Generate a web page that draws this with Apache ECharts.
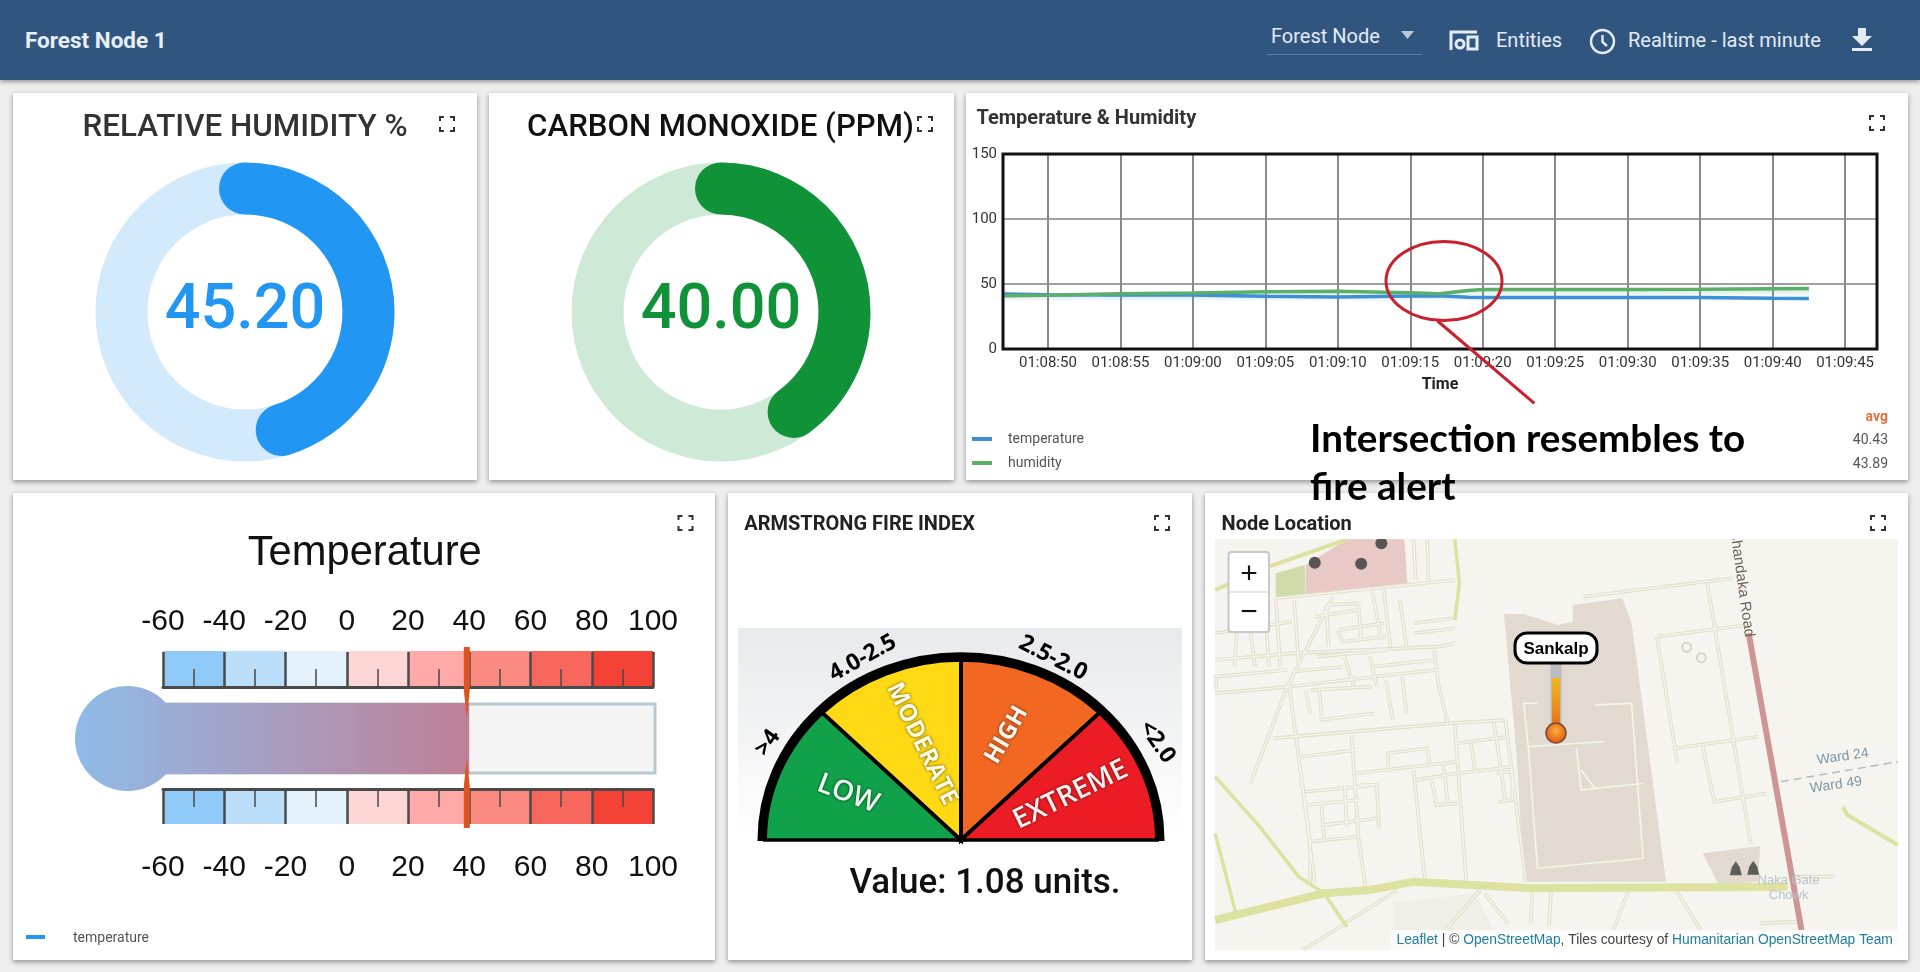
<!DOCTYPE html>
<html>
<head>
<meta charset="utf-8">
<title>Forest Node 1</title>
<script src="https://cdn.jsdelivr.net/npm/echarts@6/dist/echarts.min.js"></script>
<style>
  html, body { margin: 0; padding: 0; width: 1920px; height: 972px; overflow: hidden; background: #eeeeee; font-family: Roboto, sans-serif; }
  .bar { position: absolute; left: 0; top: 0; width: 1920px; height: 80px; background: #305680; box-shadow: 0 2px 4px rgba(0,0,0,.35); }
  .bar span { position: absolute; white-space: nowrap; transform: translateY(-50%); font-size: 20px; color: #e3ebf5; }
  .bar svg { position: absolute; }
  .card { position: absolute; background: #fff; box-shadow: 0 2px 5px rgba(0,0,0,.4); }
  #main { position: absolute; left: 0; top: 0; width: 1920px; height: 972px; }
</style>
</head>
<body>
<div class="bar">
  <span style="left:25px;top:40px;font-size:22.5px;font-weight:700;color:#e8eef6">Forest Node 1</span>
  <span style="left:1271px;top:36px">Forest Node</span>
  <svg style="left:1401px;top:31px" width="13" height="8"><path d="M0 0H13L6.5 8Z" fill="#b9c8da"/></svg>
  <div style="position:absolute;left:1267px;top:54px;width:155px;height:1px;background:#5c7ea6"></div>
  <svg style="left:1449px;top:29px" width="30" height="22" fill="none" stroke="#e3ebf5" stroke-width="3"><path d="M2 21V3H28"/><rect x="19" y="8" width="9" height="12"/><circle cx="11" cy="15" r="4"/></svg>
  <span style="left:1496px;top:40px">Entities</span>
  <svg style="left:1589px;top:28px" width="27" height="27" fill="none" stroke="#e3ebf5" stroke-width="2.4"><circle cx="13.5" cy="13.5" r="11.5"/><path d="M13.5 7V14L18 18"/></svg>
  <span style="left:1628px;top:40px">Realtime - last minute</span>
  <svg style="left:1852px;top:28px" width="20" height="23" fill="#e3ebf5"><path d="M6 0H14V8H20L10 18L0 8H6Z"/><rect y="20" width="20" height="3"/></svg>
</div>
<div class="card" style="left:13px;top:93px;width:464px;height:387px"></div>
<div class="card" style="left:489px;top:93px;width:465px;height:387px"></div>
<div class="card" style="left:966px;top:93px;width:942px;height:387px"></div>
<div class="card" style="left:13px;top:493px;width:702px;height:467px"></div>
<div class="card" style="left:728px;top:493px;width:464px;height:467px"></div>
<div class="card" style="left:1205px;top:493px;width:703px;height:467px"></div>
<div id="main"></div>
<script>
// gauges
const humidityValue = 45.2
const carbonValue = 40.0

// temperature & humidity history
const timeLabels = ['01:08:47', '01:08:50', '01:08:55', '01:09:00', '01:09:05', '01:09:10', '01:09:15', '01:09:17', '01:09:19', '01:09:20', '01:09:25', '01:09:30', '01:09:35', '01:09:40', '01:09:42.5']
const temperature = [42.3, 41.8, 41.5, 41.5, 40.5, 40, 40.8, 41, 39.8, 39.7, 39.7, 39.7, 39.6, 39, 38.8]
const humidity = [41, 41.3, 42.5, 43, 44, 44.5, 43.2, 42.5, 45, 45.7, 45.8, 45.8, 45.9, 46.3, 46.5]
const averages = ['40.43', '43.89']

// thermometer
const thermoBands = [[-60, -40], [-40, -20], [-20, 0], [0, 20], [20, 40], [40, 60], [60, 80], [80, 100]]
const thermoColors = ['#90caf9', '#bbdefb', '#e3f2fd', '#ffd6d6', '#ffaaa8', '#fb8a80', '#f7675c', '#f44336']
const thermoValue = 40
const needleValue = 39.2

// fire index
const fireSpans = [45, 45, 45, 45]
const fireColors = ['#10a14a', '#fed914', '#f26722', '#ec1c24']
const fireValue = 1.08

const toMs = t => new Date('2019-01-01T' + t).getTime()
const toSeries = vals => timeLabels.map((t, i) => [toMs(t), vals[i]])

function ringGauge (name, value, color, track, cx) {
    return {
        name: name,
        type: 'gauge',
        center: [cx, 312],
        radius: 149.5,
        startAngle: 90,
        endAngle: -270,
        min: 0,
        max: 100,
        pointer: { show: false },
        axisTick: { show: false },
        splitLine: { show: false },
        axisLabel: { show: false },
        title: { show: false },
        axisLine: { lineStyle: { width: 52, color: [[1, track]] } },
        progress: { show: true, roundCap: true, width: 52, itemStyle: { color: color } },
        detail: {
            offsetCenter: [0, 0],
            color: color,
            fontFamily: 'Roboto',
            fontWeight: 500,
            fontSize: 63,
            formatter: v => v.toFixed(2)
        },
        data: [{ value: value }]
    }
}

function line (color, name, vals) {
    return {
        name: name,
        type: 'line',
        xAxisIndex: 0,
        yAxisIndex: 0,
        showSymbol: false,
        lineStyle: { width: 3.5, color: color },
        itemStyle: { color: color },
        areaStyle: {
            color: {
                type: 'linear', x: 0, y: 0, x2: 0, y2: 1,
                colorStops: [{ offset: 0, color: color + '66' }, { offset: 0.14, color: color + '00' }]
            }
        },
        data: toSeries(vals)
    }
}

// the two coloured scales of the thermometer
function bandSeries (axis) {
    return {
        name: 'scale',
        type: 'custom',
        xAxisIndex: axis,
        yAxisIndex: axis === 1 ? 1 : 2,
        data: thermoBands,
        renderItem: function (params, api) {
            let a = api.coord([api.value(0), 1])
            let b = api.coord([api.value(1), 0])
            return { type: 'rect', shape: { x: a[0], y: a[1], width: b[0] - a[0], height: b[1] - a[1] }, style: { fill: thermoColors[params.dataIndex] } }
        }
    }
}

function needleSeries (axis, up) {
    return {
        name: 'needle',
        type: 'custom',
        z: 8,
        xAxisIndex: axis,
        yAxisIndex: axis === 1 ? 1 : 2,
        data: [[needleValue]],
        renderItem: function (params, api) {
            let x = api.coord([api.value(0), 0])[0]
            let top = api.coord([api.value(0), 1])[1]
            let bottom = api.coord([api.value(0), 0])[1]
            let pts = up
                ? [[x - 3, bottom + 4], [x - 3, top - 3], [x, top - 30], [x + 3, top - 3], [x + 3, bottom + 4]]
                : [[x - 3, top - 4], [x - 3, bottom + 3], [x, bottom + 31], [x + 3, bottom + 3], [x + 3, top - 4]]
            return { type: 'polygon', shape: { points: pts }, style: { fill: '#e0531f' } }
        }
    }
}

const tubeSeries = {
    name: 'temperature',
    type: 'custom',
    xAxisIndex: 5,
    yAxisIndex: 3,
    data: [[-60, thermoValue, 100]],
    renderItem: function (params, api) {
        let a = api.coord([api.value(0), 1])
        let b = api.coord([api.value(1), 0])
        let c = api.coord([api.value(2), 0])
        let fill = {
            type: 'linear', x: 75, y: 0, x2: 469, y2: 0, global: true,
            colorStops: [{ offset: 0, color: '#8fbbe8' }, { offset: 1, color: '#bf8097' }]
        }
        return {
            type: 'group',
            children: [
                { type: 'rect', shape: { x: a[0], y: a[1], width: c[0] - a[0] + 2, height: c[1] - a[1] }, style: { fill: '#f5f5f5', stroke: '#b9c7d0', lineWidth: 3 } },
                { type: 'circle', shape: { cx: a[0] - 35.5, cy: (a[1] + b[1]) / 2, r: 52.5 }, style: { fill: fill } },
                { type: 'rect', shape: { x: a[0], y: a[1] - 1, width: b[0] - a[0], height: b[1] - a[1] + 2 }, style: { fill: fill } }
            ]
        }
    }
}

const fireSeries = {
    name: 'fire index',
    type: 'custom',
    coordinateSystem: 'none',
    data: fireSpans,
    renderItem: function (params, api) {
        let start = Math.PI
        for (let i = 0; i < params.dataIndex; i++) start += fireSpans[i] * Math.PI / 180
        let end = start + api.value(0) * Math.PI / 180
        return {
            type: 'sector',
            x: 961,
            y: 840,
            scaleY: 180 / 196,
            shape: { cx: 0, cy: 0, r: 196, r0: 0, startAngle: start, endAngle: end },
            style: { fill: fireColors[params.dataIndex], stroke: '#000', lineWidth: 4 }
        }
    }
}

// little helpers for page furniture drawn on the chart's graphic layer
function txt (x, y, text, font, fill, align, rot, extra) {
    return {
        type: 'text',
        x: x,
        y: y,
        rotation: (rot || 0) * Math.PI / 180,
        z: 20,
        silent: true,
        style: Object.assign({ text: text, font: font, fill: fill, align: align || 'left', verticalAlign: 'middle' }, extra || {})
    }
}

function expandIcon (cx, cy) {
    let r = 7, s = 4
    let corners = [[-1, -1], [1, -1], [1, 1], [-1, 1]]
    return corners.map(c => ({
        type: 'polyline',
        z: 20,
        shape: { points: [[cx + c[0] * r, cy + c[1] * (r - s)], [cx + c[0] * r, cy + c[1] * r], [cx + c[0] * (r - s), cy + c[1] * r]] },
        style: { stroke: '#333', lineWidth: 2, fill: null }
    }))
}

// map sketch, points read in the crop's pixel grid
const mx = v => 1200 + v / 2.178
const my = v => 490 + v / 3
const mp = pts => pts.map(p => [mx(p[0]), my(p[1])])

const mapAreas = [
    { fill: '#e8c9c6', pts: [[230, 225], [320, 148], [445, 148], [452, 280], [230, 315]] },
    { fill: '#cfdcaa', pts: [[165, 250], [228, 225], [230, 315], [165, 325]] },
    { fill: '#e2d9d0', pts: [[662, 372], [705, 372], [780, 405], [812, 395], [812, 345], [920, 325], [940, 400], [1015, 1175], [705, 1175], [690, 800]] },
    { fill: '#e2d9d0', pts: [[1095, 1090], [1220, 1068], [1215, 1175], [1130, 1185]] },
    { fill: '#efeee7', pts: [[420, 1240], [600, 1210], [640, 1320], [420, 1380]] }
]
const mapStreets = [
    [[165, 325], [555, 270]], [[33, 430], [200, 395]], [[33, 510], [200, 490], [520, 470], [555, 460]],
    [[33, 610], [195, 590], [380, 560]], [[200, 545], [310, 530]], [[240, 600], [375, 590]], [[260, 690], [380, 670]],
    [[160, 745], [540, 700], [665, 690]], [[220, 800], [340, 780]], [[340, 850], [560, 815]],
    [[410, 830], [410, 790], [495, 775], [500, 820]], [[230, 905], [380, 885]], [[230, 945], [345, 930]],
    [[270, 1005], [385, 985]], [[240, 1055], [345, 1040]], [[165, 325], [175, 530]], [[205, 330], [215, 520]],
    [[290, 320], [190, 590], [110, 880]], [[195, 590], [250, 1180]], [[375, 300], [395, 450]], [[400, 300], [415, 470]],
    [[435, 330], [450, 470]], [[465, 148], [470, 270]], [[495, 148], [497, 270]], [[315, 500], [335, 590]],
    [[370, 500], [385, 590]], [[510, 480], [520, 590], [540, 700]], [[405, 570], [420, 690]], [[440, 560], [450, 670]],
    [[230, 600], [240, 670]], [[260, 600], [265, 680]], [[330, 735], [345, 1040], [360, 1190]],
    [[215, 800], [240, 1055], [240, 1180]], [[465, 840], [490, 1170]], [[555, 705], [580, 1180]], [[640, 695], [665, 930]],
    [[665, 690], [710, 1175]], [[560, 760], [670, 740]], [[565, 850], [680, 830]], [[470, 870], [560, 850]],
    [[735, 640], [705, 640], [715, 770], [735, 1135], [965, 1105], [940, 640], [860, 645]], [[715, 770], [880, 755]],
    [[820, 775], [830, 900], [965, 880]], [[830, 840], [860, 895]], [[835, 320], [1160, 265]], [[1105, 280], [1200, 1065]],
    [[995, 440], [1190, 405]], [[995, 440], [1040, 820]], [[1035, 775], [1215, 740]], [[1095, 770], [1120, 935], [1235, 910]],
    [[765, 1195], [760, 1310]], [[725, 1195], [720, 1300]], [[935, 1195], [900, 1320]], [[1035, 1195], [1090, 1320]],
    [[610, 1200], [530, 1330]], [[620, 1210], [670, 1300]], [[430, 1200], [225, 1380]], [[1220, 1300], [1300, 1295]],
    [[1290, 1160], [1380, 1160]],
    [[250, 380], [345, 360]], [[345, 340], [350, 440]], [[275, 345], [280, 470]], [[275, 345], [345, 340]],
    [[300, 420], [400, 400]], [[300, 420], [310, 455], [405, 440]], [[465, 400], [550, 385]], [[465, 430], [555, 415]],
    [[255, 500], [410, 480]], [[375, 530], [510, 510]], [[375, 560], [515, 540]], [[35, 600], [35, 560], [190, 540]],
    [[80, 430], [75, 530]], [[110, 425], [120, 530]], [[145, 420], [150, 530]], [[590, 760], [600, 850]],
    [[645, 850], [680, 845], [680, 930], [650, 935]], [[505, 875], [515, 945], [560, 940]], [[530, 820], [540, 940]],
    [[350, 885], [385, 885], [390, 1015]], [[315, 890], [320, 1010]], [[265, 950], [270, 1045]]
]
const mapMajor = [
    { w: 8, pts: [[33, 1290], [270, 1210], [370, 1200], [465, 1175], [720, 1195], [1280, 1190]] },
    { w: 3.5, pts: [[33, 860], [130, 1010], [215, 1160], [270, 1210], [320, 1310]] },
    { w: 3.5, pts: [[33, 1030], [80, 1280]] },
    { w: 4, pts: [[33, 300], [150, 230], [320, 148]] },
    { w: 3.5, pts: [[555, 148], [565, 280], [555, 390]] },
    { w: 4, pts: [[1400, 950], [1410, 975], [1520, 1065]] }
]

function mapGraphics () {
    let out = [{ type: 'rect', shape: { x: 1215, y: 539, width: 683, height: 411 }, style: { fill: '#f5f4ef' } }]
    mapAreas.forEach(a => out.push({ type: 'polygon', shape: { points: mp(a.pts) }, style: { fill: a.fill } }))
    mapStreets.forEach(s => out.push({ type: 'polyline', shape: { points: mp(s) }, style: { stroke: '#e3dfca', lineWidth: 3.6, fill: null } }))
    mapStreets.forEach(s => out.push({ type: 'polyline', shape: { points: mp(s) }, style: { stroke: '#f6f5f0', lineWidth: 1.4, fill: null } }))
    mapMajor.forEach(r => out.push({ type: 'polyline', shape: { points: mp(r.pts) }, style: { stroke: '#dde2a0', lineWidth: r.w, fill: null } }))
    out.push({ type: 'polyline', shape: { points: mp([[1195, 430], [1310, 1320]]) }, style: { stroke: '#cd9694', lineWidth: 6, fill: null } })
    out.push({ type: 'polyline', shape: { points: mp([[1265, 875], [1520, 815]]) }, style: { stroke: '#b4bcc0', lineWidth: 1.5, lineDash: [8, 5], fill: null } })
    ;[[1060, 472], [1092, 503]].forEach(c => out.push({ type: 'circle', shape: { cx: mx(c[0]), cy: my(c[1]), r: 4.5 }, style: { fill: '#f5f4ef', stroke: '#d8d2c8', lineWidth: 2 } }))
    ;[[250, 218], [351, 221], [395, 160]].forEach(c => out.push({ type: 'circle', shape: { cx: mx(c[0]), cy: my(c[1]), r: 6 }, style: { fill: '#5a5555' } }))
    ;[[1167, 1135], [1205, 1133]].forEach(c => out.push({ type: 'polygon', shape: { points: [[mx(c[0]) - 6, my(c[1]) + 7], [mx(c[0]) - 4, my(c[1]) - 1], [mx(c[0]), my(c[1]) - 7], [mx(c[0]) + 4, my(c[1]) - 1], [mx(c[0]) + 6, my(c[1]) + 7]] }, style: { fill: '#5c5c58' } }))

    // road name is cut by the top edge of the map
    let roadName = txt(mx(1180), my(280), 'Chandaka Road', '15px "Liberation Sans"', '#6f6058', 'center', -82)
    roadName.z = 10
    out.push(roadName)
    out.push({ type: 'rect', z: 15, shape: { x: 1215, y: 500, width: 683, height: 39 }, style: { fill: '#fff' } })
    out.push(txt(mx(1400), my(800), 'Ward 24', '14px "Liberation Sans"', '#7f98a3', 'center', 8))
    out.push(txt(mx(1385), my(885), 'Ward 49', '14px "Liberation Sans"', '#7f98a3', 'center', 8))
    out.push(txt(mx(1282), my(1170), 'Naka Gate', '13px "Liberation Sans"', '#b8c4c9', 'center'))
    out.push(txt(mx(1282), my(1215), 'Chowk', '13px "Liberation Sans"', '#b8c4c9', 'center'))

    // zoom control
    out.push({ type: 'rect', z: 19, shape: { x: 1228.5, y: 552, width: 40.5, height: 80, r: 3 }, style: { fill: '#fff', stroke: '#c8c8c8', lineWidth: 2 } })
    out.push({ type: 'polyline', z: 20, shape: { points: [[1229, 592], [1268, 592]] }, style: { stroke: '#ccc', lineWidth: 1 } })
    out.push(txt(1249, 575, '+', '30px "Liberation Sans"', '#111', 'center'))
    out.push(txt(1249, 613, '−', '30px "Liberation Sans"', '#111', 'center'))

    // Sankalp marker
    out.push({ type: 'rect', z: 18, shape: { x: 1550.5, y: 663, width: 11, height: 66 }, style: { fill: '#b9bdbf' } })
    out.push({ type: 'rect', z: 18, shape: { x: 1552, y: 678, width: 8, height: 50 }, style: { fill: { type: 'linear', x: 0, y: 0, x2: 0, y2: 1, colorStops: [{ offset: 0, color: '#f0b81c' }, { offset: 1, color: '#e8701a' }] } } })
    out.push({ type: 'circle', z: 18, shape: { cx: 1556, cy: 733, r: 10 }, style: { stroke: '#7a4a3a', lineWidth: 1.5, fill: { type: 'radial', x: 0.5, y: 0.4, r: 0.6, colorStops: [{ offset: 0, color: '#f8b13a' }, { offset: 1, color: '#e2500f' }] } } })
    out.push({ type: 'rect', z: 18, shape: { x: 1515, y: 633, width: 82, height: 30, r: 12 }, style: { fill: '#fff', stroke: '#000', lineWidth: 3 } })
    out.push(txt(1556, 649, 'Sankalp', 'bold 17px "Liberation Sans"', '#000', 'center'))

    // attribution
    out.push({ type: 'rect', z: 18, shape: { x: 1390.5, y: 930, width: 507.5, height: 20 }, style: { fill: 'rgba(255,255,255,0.7)' } })
    out.push({
        type: 'text', x: 1396.5, y: 940, z: 20,
        style: {
            text: '{a|Leaflet} | © {a|OpenStreetMap}, Tiles courtesy of {a|Humanitarian OpenStreetMap Team}',
            font: '13.8px "Liberation Sans"', fill: '#444', verticalAlign: 'middle',
            rich: { a: { fill: '#1f7f9c', font: '13.8px "Liberation Sans"' } }
        }
    })
    return out
}

const labelShadow = { textShadowBlur: 3, textShadowColor: 'rgba(0,0,0,.7)' }
const fireLabels = [
    txt(848, 794, 'LOW', '600 28px "Open Sans"', '#eafff0', 'center', -21, labelShadow),
    txt(921.7, 744, 'MODERATE', '700 24px "Open Sans"', '#fffbe0', 'center', -64, labelShadow),
    txt(1006.7, 735, 'HIGH', '700 24px "Open Sans"', '#fff3ea', 'center', 60, labelShadow),
    txt(1070.7, 795, 'EXTREME', '600 28px "Open Sans"', '#fff0f0', 'center', 26, labelShadow),
    txt(768, 743, '>4', '700 23px "Open Sans"', '#000', 'center', 55),
    txt(862.7, 658, '4.0-2.5', '700 23px "Open Sans"', '#000', 'center', 29),
    txt(1053, 658, '2.5-2.0', '700 23px "Open Sans"', '#000', 'center', -27),
    txt(1157, 742, '<2.0', '700 23px "Open Sans"', '#000', 'center', -55)
]

const page = [].concat(
    [
        txt(245, 128.5, 'RELATIVE HUMIDITY %', '500 31.4px Roboto', '#333', 'center'),
        txt(720.5, 128.5, 'CARBON MONOXIDE (PPM)', '500 31.2px Roboto', '#111', 'center'),
        txt(976.5, 119, 'Temperature & Humidity', '700 20px Roboto', '#333'),
        txt(1888, 417, 'avg', '700 14px Roboto', '#e0703c', 'right'),
        txt(1888, 440, averages[0], '14px Roboto', '#555', 'right'),
        txt(1888, 464, averages[1], '14px Roboto', '#555', 'right'),
        txt(364.7, 553.5, 'Temperature', '41.7px "Liberation Sans"', '#111', 'center'),
        { type: 'rect', z: 20, shape: { x: 26, y: 935, width: 19, height: 4 }, style: { fill: '#2196f3' } },
        txt(73, 938, 'temperature', '14px Roboto', '#555'),
        txt(744.3, 525, 'ARMSTRONG FIRE INDEX', '700 20px Roboto', '#222'),
        { type: 'rect', shape: { x: 738, y: 628, width: 444, height: 212 }, style: { fill: { type: 'linear', x: 0, y: 0, x2: 0, y2: 1, colorStops: [{ offset: 0, color: '#e8e9ec' }, { offset: 1, color: '#ffffff' }] } } },
        { type: 'sector', x: 961, y: 840, scaleY: 188 / 203.7, shape: { cx: 0, cy: 0, r: 202.5, r0: 0, startAngle: Math.PI, endAngle: 2 * Math.PI }, style: { fill: '#000', stroke: '#000', lineWidth: 2 } },
        txt(985, 884, 'Value: ' + fireValue + ' units.', '500 35px Roboto', '#111', 'center')
    ],
    fireLabels,
    mapGraphics(),
    txt(1221.6, 525, 'Node Location', '700 20px Roboto', '#222'),
    expandIcon(447, 124), expandIcon(925, 124), expandIcon(1877, 123),
    expandIcon(685.5, 523), expandIcon(1162, 523), expandIcon(1878, 523),
    [
        // hand drawn note on top of the dashboard
        { type: 'ellipse', z: 30, shape: { cx: 1444, cy: 281, rx: 58, ry: 39.5 }, style: { fill: null, stroke: '#c8202d', lineWidth: 3 } },
        { type: 'polyline', z: 30, shape: { points: [[1437.6, 321], [1534.4, 403.3]] }, style: { stroke: '#c8202d', lineWidth: 3, fill: null } },
        txt(1310, 440, 'Intersection resembles to', '700 38.6px Lato', '#000'),
        txt(1310, 488, 'fire alert', '700 38.6px Lato', '#000')
    ]
)
page.forEach(g => { if (g.type === 'text' && /Lato/.test(g.style.font)) g.z = 30 })

const thermoAxisTicks = (pos, idx) => ({
    type: 'value',
    gridIndex: idx,
    position: pos,
    min: -60,
    max: 100,
    interval: 20,
    z: 6,
    splitLine: { show: false },
    axisLabel: { show: false },
    axisLine: { onZero: false, lineStyle: { color: '#4a4a4a', width: 3 } },
    axisTick: { inside: true, length: 35, lineStyle: { color: '#4a4a4a', width: 2.5 } },
    minorTick: { show: true, splitNumber: 2, length: 18, lineStyle: { color: '#4a4a4a', width: 1.5 } }
})

const thermoAxisLabels = (pos, idx, margin) => ({
    type: 'value',
    gridIndex: idx,
    position: pos,
    min: -60,
    max: 100,
    interval: 20,
    splitLine: { show: false },
    axisLine: { show: false, onZero: false },
    axisTick: { show: false },
    axisLabel: { margin: margin, fontFamily: 'Liberation Sans', fontSize: 30, color: '#111' }
})

const hiddenY = idx => ({ type: 'value', gridIndex: idx, min: 0, max: 1, show: false })

let option = {
    animation: false,
    backgroundColor: 'transparent',
    legend: {
        orient: 'vertical',
        left: 967,
        top: 427,
        itemWidth: 20,
        itemHeight: 4,
        itemGap: 10,
        icon: 'rect',
        data: ['temperature', 'humidity'],
        textStyle: { fontFamily: 'Roboto', fontSize: 14, color: '#555', padding: [0, 0, 0, 11] }
    },
    graphic: { elements: page },
    grid: [
        { left: 1003, top: 154, width: 874, height: 195, show: true, borderColor: '#111', borderWidth: 3, z: 5 },
        { left: 163, top: 651, width: 490, height: 36 },
        { left: 163, top: 789, width: 490, height: 35 },
        { left: 163, top: 704, width: 490, height: 69 }
    ],
    xAxis: [
        {
            type: 'time',
            gridIndex: 0,
            min: toMs('01:08:46.9'),
            max: toMs('01:09:47.2'),
            minInterval: 6000,
            maxInterval: 6000,
            name: 'Time',
            nameLocation: 'middle',
            nameGap: 28,
            nameTextStyle: { fontFamily: 'Roboto', fontSize: 16, fontWeight: 700, color: '#222' },
            axisLine: { show: false },
            axisTick: { show: false },
            splitLine: { show: true, lineStyle: { color: '#8a8a8a', width: 2 } },
            axisLabel: {
                formatter: '{HH}:{mm}:{ss}',
                hideOverlap: false,
                showMinLabel: false,
                showMaxLabel: false,
                margin: 7,
                fontFamily: 'Roboto',
                fontSize: 15,
                color: '#333'
            }
        },
        thermoAxisTicks('bottom', 1),
        thermoAxisLabels('top', 1, 14.5),
        thermoAxisTicks('top', 2),
        thermoAxisLabels('bottom', 2, 29),
        { type: 'value', gridIndex: 3, min: -60, max: 100, show: false }
    ],
    yAxis: [
        {
            type: 'value',
            gridIndex: 0,
            min: 0,
            max: 150,
            interval: 50,
            axisLine: { show: false },
            axisTick: { show: false },
            splitLine: { lineStyle: { color: '#a0a0a0', width: 2 } },
            axisLabel: { margin: 6, fontFamily: 'Roboto', fontSize: 15, color: '#333' }
        },
        hiddenY(1),
        hiddenY(2),
        hiddenY(3)
    ],
    series: [
        ringGauge('RELATIVE HUMIDITY %', humidityValue, '#2196f3', '#d3e9fc', 245),
        ringGauge('CARBON MONOXIDE (PPM)', carbonValue, '#0f9238', '#cfe9d7', 721),
        line('#3d8fd6', 'temperature', temperature),
        line('#5aaf6a', 'humidity', humidity),
        bandSeries(1),
        bandSeries(3),
        tubeSeries,
        needleSeries(1, false),
        needleSeries(3, true),
        fireSeries
    ]
}

var mainChart = echarts.init(document.querySelector('#main'))
mainChart.setOption(option)
</script>
</body>
</html>
